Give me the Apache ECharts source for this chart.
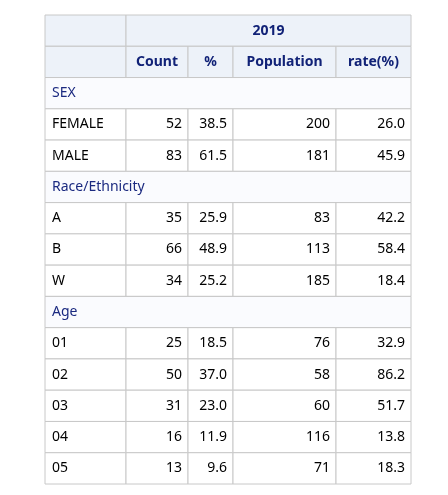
<!DOCTYPE html>
<html><head><meta charset="utf-8">
<script src="https://cdn.jsdelivr.net/npm/echarts@6/dist/echarts.min.js"></script>
<style>html,body{margin:0;padding:0;background:#fff}#c{width:448px;height:495px}</style>
</head><body><div id="c"></div>
<script>
var yearLabel = '2019';
var columns = ['Count', '%', 'Population', 'rate(%)'];
var groups = ['SEX', 'Race/Ethnicity', 'Age'];
var groupCategories = [['FEMALE', 'MALE'], ['A', 'B', 'W'], ['01', '02', '03', '04', '05']];
var counts = [[52, 83], [35, 66, 34], [25, 50, 31, 16, 13]];
var percents = [['38.5', '61.5'], ['25.9', '48.9', '25.2'], ['18.5', '37.0', '23.0', '11.9', '9.6']];
var populations = [[200, 181], [83, 113, 185], [76, 58, 60, 116, 71]];
var rates = [['26.0', '45.9'], ['42.2', '58.4', '18.4'], ['32.9', '86.2', '51.7', '13.8', '18.3']];

var colEdges = [0, 81, 143, 188, 291, 366];
var cells = [];
cells.push([0, 81, 0, 'head', '', 'center', 1]);
cells.push([81, 366, 0, 'head', yearLabel, 'center', 1]);
cells.push([0, 81, 1, 'head', '', 'center', 1]);
columns.forEach(function (c, i) { cells.push([colEdges[i + 1], colEdges[i + 2], 1, 'head', c, 'center', 1]); });
var r = 2;
groups.forEach(function (g, gi) {
  cells.push([0, 366, r, 'group', g, 'left', 1]); r++;
  groupCategories[gi].forEach(function (cat, ci) {
    var vals = [counts[gi][ci], percents[gi][ci], populations[gi][ci], rates[gi][ci]];
    cells.push([0, 81, r, 'body', cat, 'left', 1]);
    vals.forEach(function (v, vi) { cells.push([colEdges[vi + 1], colEdges[vi + 2], r, 'body', String(v), 'right', 1]); });
    r++;
  });
});

var chart = echarts.init(document.getElementById('c'));
chart.setOption({
  animation: false,
  grid: { left: 45, top: 15, width: 366, height: 469 },
  xAxis: { type: 'value', min: 0, max: 366, show: false },
  yAxis: { type: 'value', min: 0, max: 15, inverse: true, show: false },
  series: [{
    type: 'custom',
    data: cells,
    renderItem: function (params, api) {
      var d = cells[params.dataIndex];
      var p0 = api.coord([d[0], d[2]]);
      var p1 = api.coord([d[1], d[2] + d[6]]);
      var kind = d[3];
      var fill = kind === 'head' ? '#edf2f9' : (kind === 'group' ? '#fafbfe' : '#ffffff');
      var color = kind === 'body' ? '#000000' : (kind === 'head' ? '#112277' : '#1b2a80');
      var tx = d[5] === 'left' ? p0[0] + 7 : (d[5] === 'right' ? p1[0] - 6 : (p0[0] + p1[0]) / 2);
      return {
        type: 'group',
        children: [
          { type: 'rect', shape: { x: p0[0], y: p0[1], width: p1[0] - p0[0], height: p1[1] - p0[1] },
            style: { fill: fill, stroke: '#c8c8c8', lineWidth: 1 } },
          { type: 'text', style: { x: tx, y: (p0[1] + p1[1]) / 2, text: d[4], fill: color,
            font: (kind === 'head' ? 'bold ' : '') + '14px "Noto Sans"', align: d[5], verticalAlign: 'middle' } }
        ]
      };
    }
  }]
});
</script></body></html>
